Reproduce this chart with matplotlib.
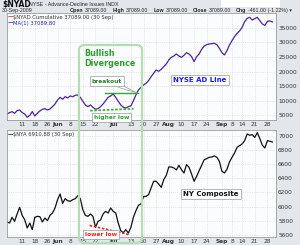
import pandas as pd
import matplotlib
matplotlib.use("Agg")
import matplotlib.pyplot as plt
from matplotlib.patches import FancyBboxPatch, Rectangle

# trading days May 1 - Sep 30 2009
holidays = ["2009-05-25", "2009-07-03", "2009-09-07"]
dates = pd.bdate_range("2009-05-01", "2009-09-30", freq="C", holidays=holidays)

# NYSE AD line (cumulative)
ad_line = [5360, 5820, 6160, 5590, 6510, 6740, 5820, 5360, 4210, 4900,
           6160, 4670, 5590, 6390, 6970, 7200, 6740, 7080, 7890, 8810,
           10180, 11100, 10410, 11330, 10870, 11560, 11330, 11790, 11910, 11100,
           9720, 8460, 7890, 8460, 7660, 6970, 7200, 7890, 8810, 9950,
           11100, 11560, 12250, 11100, 9720, 8460, 7660, 7430, 7890, 8120,
           9950, 11910, 13630, 14550, 15350, 15930, 16850, 18230, 19380, 20530,
           20070, 20760, 21670, 22590, 23970, 24890, 25350, 26040, 25350, 24890,
           25580, 26500, 26040, 25120, 23400, 25120, 26040, 27650, 28800, 29260,
           29490, 29600, 29720, 29260, 27990, 26500, 25700, 27190, 29140, 30640,
           32020, 33160, 33970, 35230, 37190, 38330, 38680, 37760, 38220, 38680,
           37530, 36380, 35920, 37300, 37420, 37089]

# NY Composite
nya = [5784, 5769, 5849, 5793, 5896, 5990, 5877, 5816, 5699, 5769,
       5675, 5849, 5863, 5858, 5784, 5840, 5802, 5877, 5910, 5981,
       6098, 6178, 6046, 6112, 6084, 6075, 6098, 6112, 6155, 6112,
       5957, 5877, 5863, 5896, 5863, 5708, 5793, 5812, 5896, 5934,
       5910, 5981, 5934, 5910, 5769, 5661, 5633, 5675, 5628, 5708,
       5849, 5943, 6019, 6037, 6141, 6145, 6169, 6263, 6357, 6357,
       6319, 6272, 6380, 6441, 6559, 6559, 6545, 6517, 6583, 6521,
       6474, 6592, 6554, 6460, 6357, 6427, 6507, 6583, 6662, 6676,
       6695, 6700, 6714, 6695, 6639, 6498, 6474, 6526, 6630, 6695,
       6756, 6836, 6860, 6883, 6930, 7024, 7006, 7015, 6977, 7043,
       6959, 6865, 6827, 6930, 6921, 6910.88]

tick_dates = ["2009-05-11", "2009-05-18", "2009-05-26", "2009-06-01", "2009-06-08",
              "2009-06-15", "2009-06-22", "2009-07-01", "2009-07-13", "2009-07-20",
              "2009-07-27", "2009-08-03", "2009-08-10", "2009-08-17", "2009-08-24",
              "2009-09-01", "2009-09-08", "2009-09-14", "2009-09-21", "2009-09-28"]
tick_labels = ["11", "18", "26", "Jun", "8", "15", "22", "Jul", "13", "20",
               "27", "Aug", "10", "17", "24", "Sep", "8", "14", "21", "28"]
month_labels = ["Jun", "Jul", "Aug", "Sep"]

ad_yticks = [5000, 10000, 15000, 20000, 25000, 30000, 35000]
nya_yticks = [5600, 5800, 6000, 6200, 6400, 6600, 6800, 7000]

# trend lines: (start index, end index), (start value, end value)
breakout_x, breakout_y = (38.8, 51.7), (12600, 12600)
higher_low_x, higher_low_y = (32.9, 50.0), (6500, 7150)
lower_low_x, lower_low_y = (32.7, 48.3), (5735, 5605)

# header quote fields
quote_fields = [("Open", "37089.00"), ("High", "37089.00"), ("Low", "37089.00"),
                ("Close", "37089.00"), ("Chg", "-461.00 (-1.22%) \u25be")]

W, H = 300, 245
plt.rcParams["font.family"] = ["DejaVu Sans"]
head_font = ["Liberation Sans", "DejaVu Sans"]
fig = plt.figure(figsize=(W / 100, H / 100), dpi=100, facecolor="#e3e7ec")
renderer = fig.canvas.get_renderer()


def px(x, y):
    return x / W, 1 - y / H


def ftext(x, y, s, **kw):
    fx, fy = px(x, y)
    return fig.text(fx, fy, s, va="center", ha="left", **kw)


x = list(range(len(dates)))
tick_pos = [dates.get_loc(pd.Timestamp(d)) for d in tick_dates]

ax1 = fig.add_axes([7 / W, 1 - 120 / H, 269 / W, 107 / H])
ax2 = fig.add_axes([7 / W, 1 - 237 / H, 269 / W, 107 / H])

for ax, yt in ((ax1, ad_yticks), (ax2, nya_yticks)):
    ax.set_facecolor("#fbfcfd")
    ax.set_xlim(0, 106.4)
    ax.set_xticks(tick_pos)
    ax.set_xticklabels(tick_labels, fontsize=4.2, color="#333333")
    for lab in ax.get_xticklabels():
        if lab.get_text() in month_labels:
            lab.set_fontweight("bold")
    ax.set_yticks(yt)
    ax.set_yticklabels([str(v) for v in yt], fontsize=4.2, color="#333333")
    ax.yaxis.tick_right()
    ax.tick_params(length=0, pad=1.5)
    ax.grid(True, color="#d0d4d8", linestyle=":", linewidth=0.5)
    for sp in ax.spines.values():
        sp.set_color("#9a9a9a")
        sp.set_linewidth(0.6)

ax1.set_ylim(3280, 40170)
ax2.set_ylim(5572, 7080)

ax1.plot(x, ad_line, color="#4a23a0", linewidth=0.9)
ax2.plot(x, nya, color="#111111", linewidth=0.9)

# trend lines
ax1.plot(breakout_x, breakout_y, color="#33aa33", linewidth=1.0)
ax1.plot(higher_low_x, higher_low_y, color="#33aa33", linewidth=1.2, linestyle=(0, (1.5, 1)))
ax2.plot(lower_low_x, lower_low_y, color="#ee2222", linewidth=1.2, linestyle=(0, (1.5, 1)))

# header
ftext(2, 4, "$NYAD", fontsize=5.5, fontweight="bold", color="#111111")
ftext(29, 4, "NYSE - Advance-Decline Issues INDX", fontsize=3.8, color="#222222",
      family=head_font)
fig.patches.append(Rectangle(px(221, 7), 59 / W, 7 / H, transform=fig.transFigure,
                             facecolor="white", edgecolor="none"))
ftext(2, 10.5, "30-Sep-2009", fontsize=3.8, color="#222222", family=head_font)
cur = 70
for lab, val in quote_fields:
    t = ftext(cur, 10.5, lab, fontsize=3.8, fontweight="bold", color="#222222",
              family=head_font)
    cur = t.get_window_extent(renderer).x1 + 1.5
    t = ftext(cur, 10.5, val, fontsize=3.8, color="#222222", family=head_font)
    cur = t.get_window_extent(renderer).x1 + 5

# legends
ftext(7.5, 17, "\u2014", fontsize=4, color="#ee2222", fontweight="bold")
ftext(13, 17, "$NYAD Cumulative 37089.00 (30 Sep)", fontsize=3.8, color="#333333")
ftext(7.5, 23, "\u2014", fontsize=4, color="#3030d0", fontweight="bold")
ftext(13, 23, "MA(1) 37089.80", fontsize=3.8, color="#2020c0")
ftext(7.5, 134.5, "\u2014", fontsize=4, color="#111111", fontweight="bold")
ftext(13, 134.5, "$NYA 6910.88 (30 Sep)", fontsize=3.8, color="#333333")

# divergence box
fig.patches.append(FancyBboxPatch(px(79, 243), 63 / W, 198 / H,
                                  boxstyle="round,pad=0,rounding_size=0.02",
                                  transform=fig.transFigure, facecolor="none",
                                  edgecolor="#b5deb0", linewidth=1.6, zorder=10))
ftext(84, 53, "Bullish", fontsize=5.8, fontweight="bold", color="#2e9e2e")
ftext(84, 63, "Divergence", fontsize=5.8, fontweight="bold", color="#2e9e2e")

box = dict(boxstyle="square,pad=0.35", facecolor="white", edgecolor="#9a9a9a", linewidth=0.5)
ax1.annotate("breakout", xy=(51.5, 12600), xytext=(92, H - 81), textcoords="figure pixels",
             fontsize=4.2, fontweight="bold", color="#2a7d2a", va="center", ha="left",
             bbox=box, zorder=11,
             arrowprops=dict(arrowstyle="wedge,tail_width=0.6", facecolor="white",
                             edgecolor="#9a9a9a", linewidth=0.5, shrinkA=0, shrinkB=0))
fig.text(*px(94, 117.5), "higher low", fontsize=4.2, fontweight="bold", color="#2e9e2e",
         va="center", ha="left", bbox=box, zorder=12)
fig.text(*px(173, 80), "NYSE AD Line", fontsize=5.0, fontweight="bold", color="#1a1aff",
         va="center", ha="left", bbox=box, zorder=12)
fig.text(*px(183, 194), "NY Composite", fontsize=5.0, fontweight="bold", color="#111111",
         va="center", ha="left", bbox=box, zorder=12)
fig.text(*px(85, 234.5), "lower low", fontsize=4.2, fontweight="bold", color="#ee2222",
         va="center", ha="left", bbox=box, zorder=12)

fig.savefig("out.png", dpi=100, facecolor=fig.get_facecolor())
